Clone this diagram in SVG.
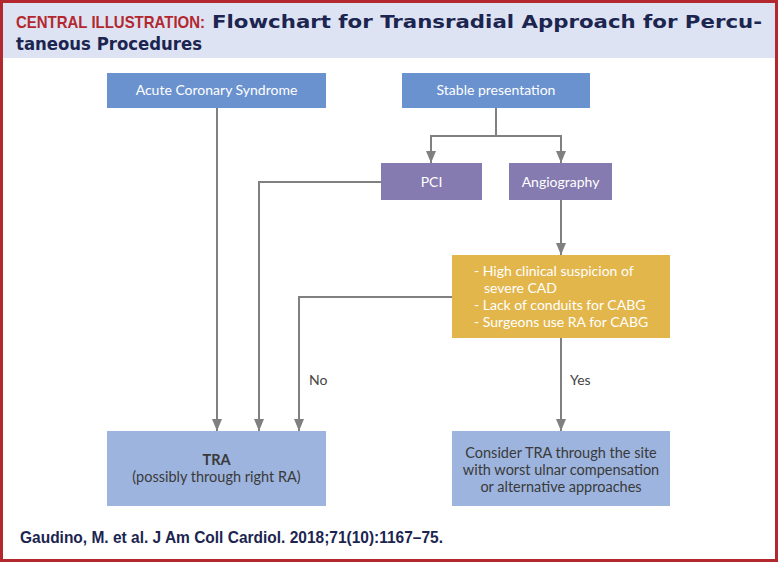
<svg xmlns="http://www.w3.org/2000/svg" width="778" height="562" viewBox="0 0 778 562">
<style>
.frame{fill:#ffffff;stroke:#b3282f;stroke-width:3}
.hdr{fill:#dde3f2}
.t-red{font-family:"Liberation Sans",Arial,sans-serif;font-weight:bold;font-size:17px;fill:#b3282f}
.t-navy{font-family:"DejaVu Sans","Liberation Sans",sans-serif;font-weight:bold;font-size:17px;fill:#1b2550}
.blue{fill:#6a92cf}
.purple{fill:#857bb0}
.yellow{fill:#e3b64b}
.light{fill:#9db4de}
.wt{font-family:Lato,"Open Sans",sans-serif;font-size:14px;fill:#ffffff}
.dt{font-family:Lato,"Open Sans",sans-serif;font-size:14.5px;fill:#3a3a3a}
.lbl{font-family:Lato,"Open Sans",sans-serif;font-size:14px;fill:#444444}
.c{text-anchor:middle}
.conn{fill:none;stroke:#808080;stroke-width:2}
.foot{font-family:"Liberation Sans",Arial,sans-serif;font-weight:bold;font-size:17px;fill:#1b2550}
</style>
<defs>
<marker id="ah" viewBox="0 0 12 10" refX="12" refY="5" markerWidth="12" markerHeight="10" orient="auto" markerUnits="userSpaceOnUse">
<path d="M0,0 L12,5 L0,10 Z" fill="#808080"/>
</marker>
</defs>
<rect class="frame" x="1.5" y="1.5" width="775" height="559"/>
<rect class="hdr" x="3" y="3" width="772" height="55"/>
<text x="16" y="28" class="t-red" textLength="189" lengthAdjust="spacingAndGlyphs">CENTRAL ILLUSTRATION:</text>
<text x="212" y="28" class="t-navy" textLength="550" lengthAdjust="spacingAndGlyphs">Flowchart for Transradial Approach for Percu-</text>
<text x="16" y="50" class="t-navy" textLength="186" lengthAdjust="spacingAndGlyphs">taneous Procedures</text>

<g id="connectors">
<path class="conn" d="M217,108 V431" marker-end="url(#ah)"/>
<path class="conn" d="M496,108 V136"/>
<path class="conn" d="M496,136 H431 V163" marker-end="url(#ah)"/>
<path class="conn" d="M496,136 H561 V163" marker-end="url(#ah)"/>
<path class="conn" d="M381,182 H259 V431" marker-end="url(#ah)"/>
<path class="conn" d="M561,200 V255" marker-end="url(#ah)"/>
<path class="conn" d="M452,297 H299 V431" marker-end="url(#ah)"/>
<path class="conn" d="M561,338 V431" marker-end="url(#ah)"/>
<text class="lbl" x="309" y="385">No</text>
<text class="lbl" x="570" y="385">Yes</text>
</g>

<g id="acs">
<rect class="blue" x="107" y="73" width="219" height="35"/>
<text class="wt c" x="216.5" y="95">Acute Coronary Syndrome</text>
</g>
<g id="stable">
<rect class="blue" x="402" y="73" width="188" height="35"/>
<text class="wt c" x="496" y="95">Stable presentation</text>
</g>
<g id="pci">
<rect class="purple" x="381" y="163" width="101" height="37"/>
<text class="wt c" x="431.5" y="186.5">PCI</text>
</g>
<g id="angiography">
<rect class="purple" x="509" y="163" width="103" height="37"/>
<text class="wt c" x="560.5" y="186.5">Angiography</text>
</g>
<g id="criteria">
<rect class="yellow" x="452" y="255" width="218" height="83"/>
<text class="wt" x="474" y="276">- High clinical suspicion of</text>
<text class="wt" x="484" y="293">severe CAD</text>
<text class="wt" x="474" y="310">- Lack of conduits for CABG</text>
<text class="wt" x="474" y="327">- Surgeons use RA for CABG</text>
</g>
<g id="tra">
<rect class="light" x="107" y="431" width="219" height="75"/>
<text class="dt c" x="216.5" y="465" font-weight="bold">TRA</text>
<text class="dt c" x="216.5" y="482">(possibly through right RA)</text>
</g>
<g id="consider">
<rect class="light" x="452" y="431" width="218" height="75"/>
<text class="dt c" x="561" y="458">Consider TRA through the site</text>
<text class="dt c" x="561" y="475">with worst ulnar compensation</text>
<text class="dt c" x="561" y="492">or alternative approaches</text>
</g>

<text class="foot" x="20" y="543" textLength="423" lengthAdjust="spacingAndGlyphs">Gaudino, M. et al. J Am Coll Cardiol. 2018;71(10):1167–75.</text>
</svg>
